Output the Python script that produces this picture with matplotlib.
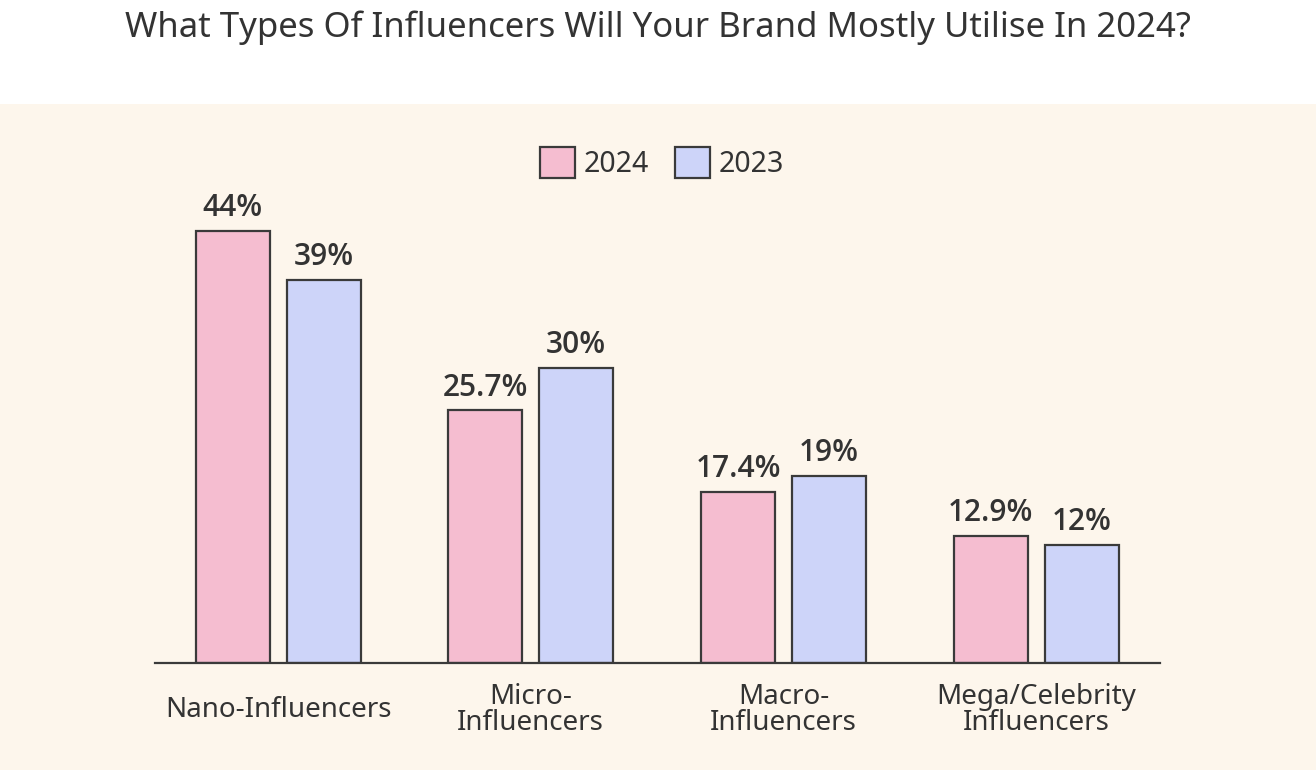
import matplotlib.pyplot as plt
from matplotlib.patches import Rectangle
import numpy as np

categories = ["Nano-Influencers", "Micro-\nInfluencers", "Macro-\nInfluencers", "Mega/Celebrity\nInfluencers"]
values_2024 = [44, 25.7, 17.4, 12.9]
values_2023 = [39, 30, 19, 12]
labels_2024 = ["44%", "25.7%", "17.4%", "12.9%"]
labels_2023 = ["39%", "30%", "19%", "12%"]

pink = "#F5BDD0"
blue = "#CDD4F9"
edge = "#3a3a3a"
cream = "#FDF6EC"
text_col = "#333333"

plt.rcParams["font.family"] = ["Noto Sans", "DejaVu Sans"]

fig = plt.figure(figsize=(13.16, 7.7), dpi=100)
fig.patch.set_facecolor("white")
# cream panel under the title
panel = Rectangle((0, 0), 1, 0.865, transform=fig.transFigure,
                  facecolor=cream, edgecolor="none", zorder=-10)
fig.add_artist(panel)

fig.text(0.5, 0.964, "What Types Of Influencers Will Your Brand Mostly Utilise In 2024?",
         ha="center", va="center", fontsize=25, color=text_col)

ax = fig.add_axes([0.1178, 0.139, 0.7637, 0.725])
ax.set_facecolor("none")
ax.set_zorder(1)

x = np.arange(len(categories))
w = 0.293
off = 0.18
b1 = ax.bar(x - off, values_2024, w, color=pink, edgecolor=edge, linewidth=1.6, label="2024")
b2 = ax.bar(x + off, values_2023, w, color=blue, edgecolor=edge, linewidth=1.6, label="2023")

for rect, lab in zip(b1, labels_2024):
    ax.text(rect.get_x() + rect.get_width() / 2, rect.get_height() + 0.8, lab,
            ha="center", va="bottom", fontsize=21.5, fontweight="semibold", color=text_col,
            family=["Open Sans", "DejaVu Sans"])
for rect, lab in zip(b2, labels_2023):
    ax.text(rect.get_x() + rect.get_width() / 2, rect.get_height() + 0.8, lab,
            ha="center", va="bottom", fontsize=21.5, fontweight="semibold", color=text_col,
            family=["Open Sans", "DejaVu Sans"])

ax.set_xlim(-0.487, 3.49)
ax.set_ylim(0, 56.8)
ax.set_yticks([])
ax.set_xticks(x)
ax.set_xticklabels(categories, fontsize=20, color=text_col, linespacing=0.9, va="center")
ax.tick_params(axis="x", length=0, pad=34)
for s in ["top", "right", "left"]:
    ax.spines[s].set_visible(False)
ax.spines["bottom"].set_color(edge)
ax.spines["bottom"].set_linewidth(1.6)

leg = fig.legend(loc="center", bbox_to_anchor=(0.503, 0.788), ncol=2, frameon=False,
                 fontsize=20.5, handlelength=1.25, handleheight=1.25, columnspacing=0.9,
                 handletextpad=0.3)
for t in leg.get_texts():
    t.set_color(text_col)

fig.savefig("out.png", dpi=100, facecolor=fig.get_facecolor())
